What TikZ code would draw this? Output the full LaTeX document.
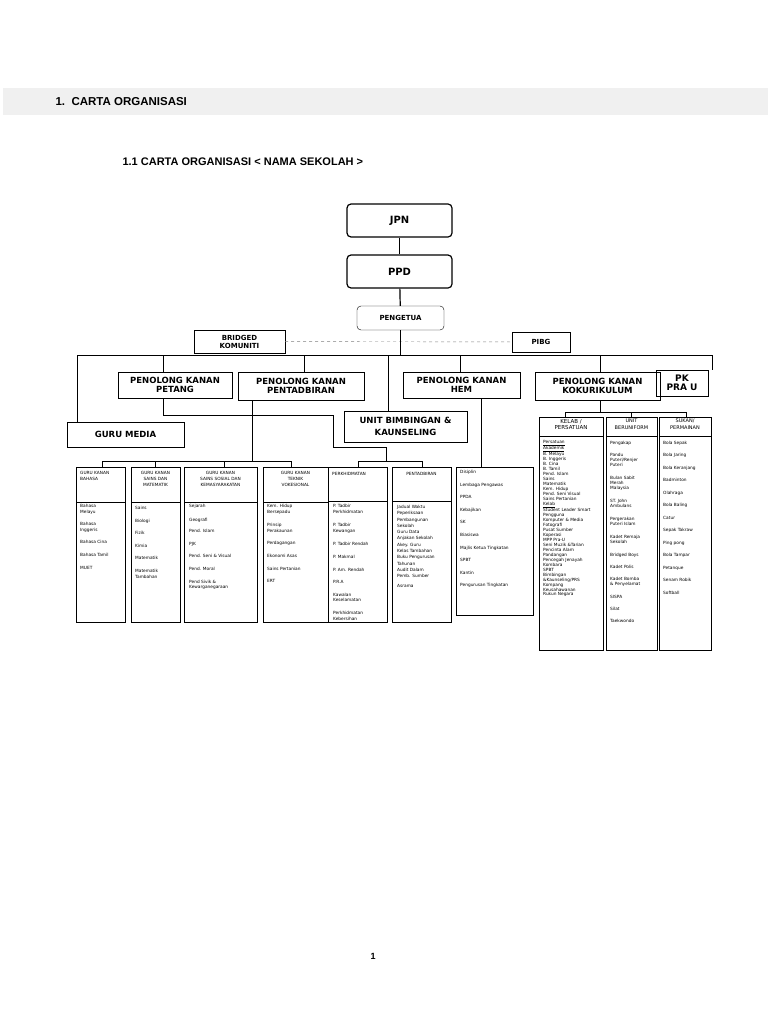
\documentclass[tikz,border=0pt]{standalone}
\usepackage{fontspec}
\setmainfont{DejaVu Sans}
\newfontfamily\hdrfont{Liberation Sans}
\begin{document}
\begin{tikzpicture}[x=1pt,y=-1pt,
  box/.style={draw,thin,inner sep=0pt,font=\bfseries\fontsize{8.5}{9.5}\selectfont,align=center},
  rbox/.style={box,rounded corners=4pt},
  ln/.style={draw,thin},
  lst/.style={anchor=north west,inner sep=0pt,align=left,font=\fontsize{4.3}{5.6}\selectfont},
  hd/.style={anchor=north,inner sep=0pt,align=center,font=\fontsize{4.3}{6}\selectfont}]
\useasboundingbox (0,0) rectangle (768,1024);
\fill[gray!12] (3,88) rectangle (768,115);
\node[anchor=west,font=\hdrfont\bfseries\fontsize{11.5}{12}\selectfont] (t1) at (52,102) {1.\ \ CARTA ORGANISASI};
\node[anchor=west,font=\hdrfont\bfseries\fontsize{11}{12}\selectfont] (t2) at (119,162) {1.1 CARTA ORGANISASI < NAMA SEKOLAH >};
\node[rbox,line width=1.2pt,minimum width=105,minimum height=33,font=\bfseries\fontsize{10}{11}\selectfont] (jpn) at (399.5,220.5) {JPN};
\node[rbox,line width=1.2pt,minimum width=105,minimum height=33,font=\bfseries\fontsize{10}{11}\selectfont] (ppd) at (399.5,271.5) {PPD};
\node[rbox,minimum width=87,minimum height=24,font=\bfseries\fontsize{7}{8}\selectfont] (peng) at (400.5,318) {PENGETUA};
\node[box,minimum width=91,minimum height=23,font=\bfseries\fontsize{7}{8}\selectfont] (brig) at (239.5,341.5) {BRIDGED\\KOMUNITI};
\node[box,minimum width=58,minimum height=20,font=\bfseries\fontsize{7}{8}\selectfont] (pibg) at (541,342) {PIBG};
\draw[line width=1.2pt] (jpn) -- (ppd);
\draw[line width=1.2pt] (ppd) -- (peng);
\draw[dashed,gray] (brig) -- (pibg);
\node[box,minimum width=114,minimum height=26] (pkp) at (175,385) {PENOLONG KANAN\\PETANG};
\node[box,minimum width=126,minimum height=28] (pkt) at (301,386) {PENOLONG KANAN\\PENTADBIRAN};
\node[box,minimum width=117,minimum height=26] (pkh) at (461.5,385) {PENOLONG KANAN\\HEM};
\node[box,minimum width=125,minimum height=28] (pkk) at (597.5,386) {PENOLONG KANAN\\KOKURIKULUM};
\node[box,minimum width=52,minimum height=26,font=\bfseries\fontsize{9}{9.5}\selectfont] (pku) at (682,383) {PK\\PRA U};
\node[box,minimum width=117,minimum height=25] (gm) at (125.5,434.5) {GURU MEDIA};
\node[box,minimum width=123,minimum height=31,font=\bfseries\fontsize{8.5}{12}\selectfont] (ubk) at (405.5,426.5) {UNIT BIMBINGAN \&\\KAUNSELING};
\coordinate (bl) at (77,355); \coordinate (br) at (712,355);
\draw[ln] (peng.south) -- (peng.south |- bl);
\draw[ln] (bl) -- (br);
\draw[ln] (bl) -- (77,422);
\draw[ln] (163,355) -- (163,372);
\draw[ln] (304,355) -- (304,372);
\draw[ln] (460,355) -- (460,372);
\draw[ln] (600,355) -- (600,373);
\draw[ln] (712,355) -- (712,370);
\draw[line width=0.9pt] (388,355) -- (ubk.north -| 388,0);
% lower columns
\newcommand\colbox[5]{\draw[thin] (#1,#3) rectangle (#2,#5); \draw[thin] (#1,#4) -- (#2,#4);}
\colbox{76}{125}{467}{502}{622}
\colbox{131}{180}{467}{502}{622}
\colbox{184}{257}{467}{502}{622}
\colbox{263}{328}{467}{502}{622}
\colbox{328}{387}{467}{501}{622}
\colbox{392}{451}{467}{501}{622}
\draw[thin] (456,467) rectangle (533,615);
\colbox{539}{603}{417}{436}{650}
\colbox{606}{657}{417}{436}{650}
\colbox{659}{711}{417}{436}{650}
% connectors lower
\draw[ln] (252,400) -- (252,461);
\draw[ln] (102,461) -- (291,461);
\foreach \x in {102,155,224,291} \draw[ln] (\x,461) -- (\x,467);
\draw[ln] (163,398) -- (163,415) -- (333,415) -- (333,447) -- (386,447) -- (386,461);
\draw[ln] (358,461) -- (422,461);
\foreach \x in {358,422} \draw[ln] (\x,461) -- (\x,467);
\draw[ln] (481,398) -- (481,467);
\draw[ln] (600,400) -- (600,412);
\draw[ln] (565,412) -- (686,412);
\foreach \x in {565,631,686} \draw[ln] (\x,412) -- (\x,417);
% headers
\node[hd,anchor=north west,align=left] (h1) at (80,471) {GURU KANAN\\BAHASA};
\node[hd] (h2) at (155.5,471) {GURU KANAN\\SAINS DAN\\MATEMATIK};
\node[hd] (h3) at (220.5,471) {GURU KANAN\\SAINS SOSIAL DAN\\KEMASYARAKATAN};
\node[hd] (h4) at (295.5,471) {GURU KANAN\\TEKNIK\\VOKESIONAL};
\node[hd,anchor=north west] (h5) at (332,472) {PERKHIDMATAN};
\node[hd] (h6) at (421.5,472) {PENTADBIRAN};
\node[hd,font=\fontsize{5.5}{6.5}\selectfont] (h7) at (571,419) {KELAB /\\PERSATUAN};
\node[hd,font=\fontsize{5}{6.5}\selectfont] (h8) at (631.5,419) {UNIT\\BERUNIFORM};
\node[hd,font=\fontsize{5}{6.5}\selectfont] (h9) at (685,419) {SUKAN/\\PERMAINAN};
% lists
\node[lst] (l1) at (80,504) {Bahasa\\Melayu\\[7pt]Bahasa\\Inggeris\\[7pt]Bahasa Cina\\[7pt]Bahasa Tamil\\[7pt]MUET};
\node[lst] (l2) at (135,506) {Sains\\[7pt]Biologi\\[7pt]Fizik\\[7pt]Kimia\\[7pt]Matematik\\[7pt]Matematik\\Tambahan};
\node[lst] (l3) at (189,504) {Sejarah\\[8pt]Geografi\\[6pt]Pend. Islam\\[7pt]PJK\\[7pt]Pend. Seni \& Visual\\[7pt]Pend. Moral\\[7pt]Pend Sivik \&\\Kewarganegaraan};
\node[lst] (l4) at (267,504) {Kem. Hidup\\Bersepadu\\[8pt]Prinsip\\Perakaunan\\[7pt]Perdagangan\\[7pt]Ekonomi Asas\\[7pt]Sains Pertanian\\[7pt]ERT};
\node[lst] (l5) at (333,504) {P. Tadbir\\Perkhidmatan\\[8pt]P. Tadbir\\Kewangan\\[8pt]P. Tadbir Rendah\\[7pt]P. Makmal\\[7pt]P. Am. Rendah\\[7pt]P.R.A\\[7pt]Kawalan\\Keselamatan\\[7pt]Perkhidmatan\\Kebersihan};
\node[lst,font=\fontsize{4.3}{6.3}\selectfont] (l6) at (397,505) {Jadual Waktu\\Peperiksaan\\Pembangunan\\Sekolah\\Guru Data\\Anjakan Sekolah\\Akey. Guru\\Kelas Tambahan\\Buku Pengurusan\\Tahunan\\Audit Dalam\\Pemb. Sumber\\[3pt]Asrama};
\node[lst] (l7) at (460,470) {Disiplin\\[7pt]Lembaga Pengawas\\[7pt]PPDA\\[7pt]Kebajikan\\[7pt]SK\\[7pt]Biasiswa\\[7pt]Majlis Ketua Tingkatan\\[7pt]SPBT\\[7pt]Kantin\\[7pt]Pengurusan Tingkatan};
\node[lst,font=\fontsize{4.3}{4.95}\selectfont] (l8) at (543,440) {\underline{Persatuan}\\\underline{Akademik}\\B. Melayu\\B. Inggeris\\B. Cina\\B. Tamil\\Pend. Islam\\Sains\\Matematik\\Kem. Hidup\\Pend. Seni Visual\\Sains Pertanian\\\underline{Kelab}\\Student Leader Smart\\Pengguna\\Komputer \& Media\\Fotografi\\Pusat Sumber\\Koperasi\\MPP Pra-U\\Seni Muzik \&Tarian\\Pencinta Alam\\Pandangan\\Pencegah Jenayah\\Kombara\\SPBT\\Bimbingan\\\&Kaunseling/PRS\\Kompang\\Keusahawanan\\Rukun Negara};
\node[lst,font=\fontsize{4.3}{5}\selectfont] (l9) at (610,441) {Pengakap\\[7pt]Pandu\\Puteri/Renjer\\Puteri\\[8pt]Bulan Sabit\\Merah\\Malaysia\\[8pt]ST. John\\Ambulans\\[8pt]Pergerakan\\Puteri Islam\\[8pt]Kadet Remaja\\Sekolah\\[8pt]Bridged Boys\\[7pt]Kadet Polis\\[7pt]Kadet Bomba\\\& Penyelamat\\[8pt]SISPA\\[7pt]Silat\\[7pt]Taekwondo};
\node[lst,font=\fontsize{4.3}{5}\selectfont] (l10) at (663,441) {Bola Sepak\\[7.5pt]Bola Jaring\\[7.5pt]Bola Keranjang\\[7.5pt]Badminton\\[7.5pt]Olahraga\\[7.5pt]Bola Baling\\[7.5pt]Catur\\[7.5pt]Sepak Takraw\\[7.5pt]Ping pong\\[7.5pt]Bola Tampar\\[7.5pt]Petanque\\[7.5pt]Senam Robik\\[7.5pt]Softball};
\node[font=\hdrfont\bfseries\fontsize{9}{10}\selectfont] (pg) at (373,956) {1};
\end{tikzpicture}
\end{document}
